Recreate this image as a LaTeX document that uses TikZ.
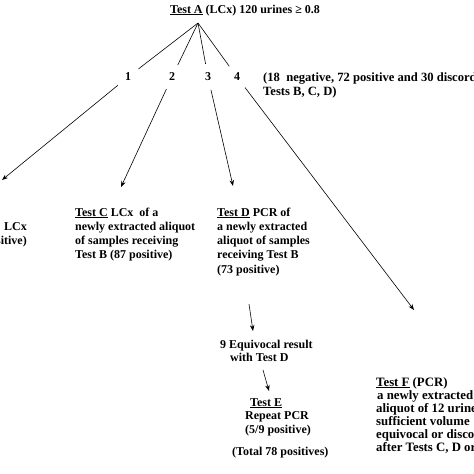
\documentclass[tikz,border=0pt]{standalone}
\usepackage{fontspec}
\setmainfont{Liberation Serif}
\usetikzlibrary{arrows.meta}

\begin{document}
\begin{tikzpicture}[x=1pt, y=-1pt, font=\fontsize{12}{14.3}\selectfont\bfseries, >={Stealth[length=6pt, width=4.5pt]}]
	\tikzset{
		num/.style={circle, minimum size=26pt, inner sep=0pt},
		block/.style={align=left, anchor=base west, inner sep=0pt},
		branch/.style={line width=0.6pt},
		flow/.style={line width=0.6pt, ->},
	}
	\useasboundingbox (0,0) rectangle (474,474);
	
	% 1. Test A and the four branches
	\node[inner sep=0pt, anchor=base] (testA) at (245,13) {\underline{Test A} (LCx) 120 urines ≥ 0.8};
	\coordinate (apex) at (198,23);
	\node[num] (n1) at (128,77) {1};
	\node[num] (n2) at (172,77) {2};
	\node[num] (n3) at (208,77) {3};
	\node[num] (n4) at (237,77) {4};
	\foreach \n in {1,...,4}
		\draw[branch] (apex) -- (n\n);
	% (base anchor of a block = baseline of its last line)
	\node[block, font=\fontsize{12.6}{14.3}\selectfont\bfseries] (split) at (263,95.3) {(18\ \ negative, 72 positive and 30 discordant\\Tests B, C, D)};
	
	% 2. Arrows down to the tests
	\coordinate (tipB) at (2,180);
	\coordinate (tipC) at (121,187);
	\coordinate (tipD) at (233,186);
	\coordinate (tipF) at (414,310);
	\draw[flow] (n1) -- (tipB);
	\draw[flow] (n2) -- (tipC);
	\draw[flow] (n3) -- (tipD);
	\draw[flow] (n4) -- (tipF);
	
	% 3. Tests B, C, D
	\node[block, anchor=base east, align=right] (testB) at (27,244.3) {LCx\\positive)};
	\node[block] (testC) at (75,258.9) {\underline{Test C} LCx~ of a\\newly extracted aliquot\\of samples receiving\\Test B (87 positive)};
	\node[block] (testD) at (217,273.2) {\underline{Test D} PCR of\\a newly extracted\\aliquot of samples\\receiving Test B\\(73 positive)};
	
	% 4. Equivocal results and Test E
	\coordinate (eqOut) at (249,304);
	\coordinate (eqIn) at (253,331);
	\draw[flow] (eqOut) -- (eqIn);
	\node[block, font=\fontsize{12}{13.5}\selectfont\bfseries] (equiv) at (220,361.5) {9 Equivocal result\\\hspace*{10pt}with Test D};
	\coordinate (eOut) at (263,370);
	\coordinate (eIn) at (269,391);
	\draw[flow] (eOut) -- (eIn);
	\node[block, font=\fontsize{12}{13.5}\selectfont\bfseries] (testE) at (245,433) {\hspace*{5pt}\underline{Test E}\\Repeat PCR\\(5/9 positive)};
	\node[block] (total) at (232,455) {(Total 78 positives)};
	
	% 5. Test F
	\node[block, font=\fontsize{12.8}{13}\selectfont\bfseries] (testF) at (376,451) {\underline{Test F} (PCR)\\\hspace*{1pt}a newly extracted\\aliquot of 12 urines\\sufficient volume\\equivocal or discordant\\after Tests C, D or};
	
\end{tikzpicture}
\end{document}
